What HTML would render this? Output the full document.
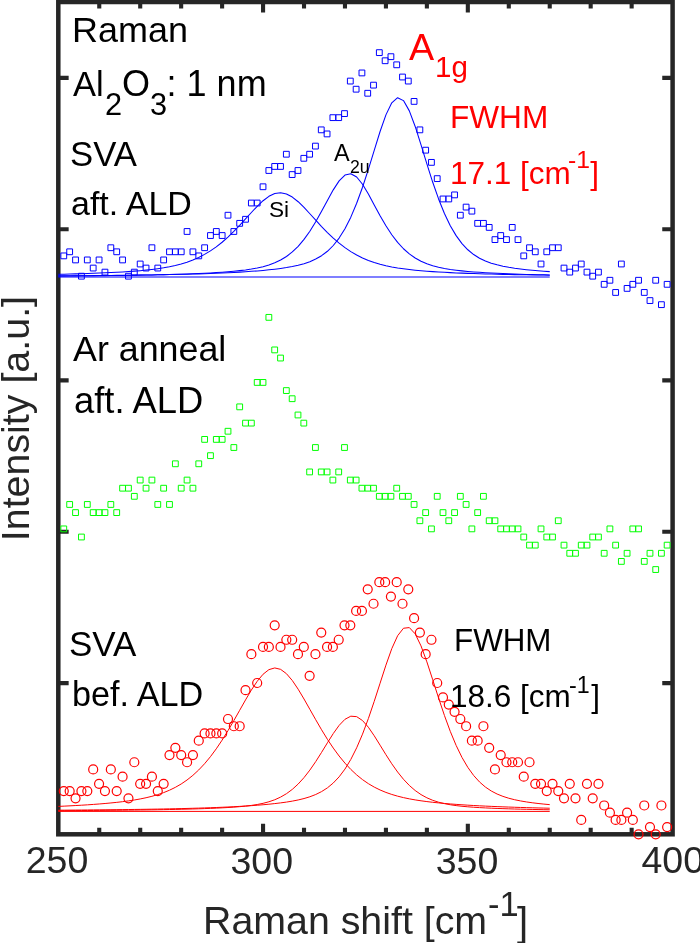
<!DOCTYPE html>
<html><head><meta charset="utf-8"><style>
html,body{margin:0;padding:0;background:#fff;width:700px;height:943px;overflow:hidden;position:relative}
svg text{font-family:"Liberation Sans",sans-serif}
</style></head><body>
<svg width="700" height="943" viewBox="0 0 700 943" style="position:absolute;left:0;top:0;will-change:transform"><rect x="58.3" y="2.0" width="614.3000000000001" height="832.3" fill="none" stroke="#262626" stroke-width="4.5"/><path d="M99.25 834.30V827.75M99.25 2.00V8.55M140.21 834.30V827.75M140.21 2.00V8.55M181.16 834.30V827.75M181.16 2.00V8.55M222.11 834.30V827.75M222.11 2.00V8.55M263.07 834.30V823.75M263.07 2.00V12.55M304.02 834.30V827.75M304.02 2.00V8.55M344.97 834.30V827.75M344.97 2.00V8.55M385.93 834.30V827.75M385.93 2.00V8.55M426.88 834.30V827.75M426.88 2.00V8.55M467.83 834.30V823.75M467.83 2.00V12.55M508.79 834.30V827.75M508.79 2.00V8.55M549.74 834.30V827.75M549.74 2.00V8.55M590.69 834.30V827.75M590.69 2.00V8.55M631.65 834.30V827.75M631.65 2.00V8.55M58.30 77.9H68.65M672.60 77.9H662.25M58.30 229.2H68.65M672.60 229.2H662.25M58.30 380.4H68.65M672.60 380.4H662.25M58.30 531.8H68.65M672.60 531.8H662.25M58.30 683.1H68.65M672.60 683.1H662.25" stroke="#262626" stroke-width="4.1" fill="none"/><g><path d="M58.30 277.0H549.74" stroke="#0000ff" stroke-width="1.05"/><path d="M58.30 274.34 L64.15 274.20 L70.00 274.05 L75.85 273.89 L81.70 273.72 L87.55 273.53 L93.40 273.32 L99.25 273.09 L105.10 272.85 L110.95 272.57 L116.80 272.27 L122.66 271.94 L128.51 271.56 L134.36 271.14 L140.21 270.65 L146.06 270.10 L151.91 269.45 L157.76 268.69 L163.61 267.80 L169.46 266.74 L175.31 265.47 L181.16 263.95 L187.01 262.14 L192.86 259.97 L198.71 257.41 L204.56 254.39 L210.41 250.88 L216.26 246.84 L222.11 242.24 L227.96 237.10 L233.81 231.44 L239.66 225.35 L245.52 218.96 L251.37 212.50 L257.22 206.29 L263.07 200.74 L268.92 196.33 L274.77 193.53 L280.62 192.70 L286.47 193.93 L292.32 197.07 L298.17 201.74 L304.02 207.45 L309.87 213.74 L315.72 220.21 L321.57 226.56 L327.42 232.57 L333.27 238.14 L339.12 243.18 L344.97 247.66 L350.82 251.60 L356.67 255.01 L362.52 257.94 L368.38 260.42 L374.23 262.51 L380.08 264.27 L385.93 265.73 L391.78 266.96 L397.63 267.99 L403.48 268.85 L409.33 269.58 L415.18 270.21 L421.03 270.75 L426.88 271.22 L432.73 271.64 L438.58 272.00 L444.43 272.33 L450.28 272.63 L456.13 272.90 L461.98 273.14 L467.83 273.36 L473.68 273.57 L479.53 273.75 L485.38 273.93 L491.24 274.08 L497.09 274.23 L502.94 274.37 L508.79 274.50 L514.64 274.61 L520.49 274.72 L526.34 274.83 L532.19 274.92 L538.04 275.01 L543.89 275.10 L549.74 275.18" fill="none" stroke="#0000ff" stroke-width="1.05" stroke-linejoin="round"/><path d="M58.30 276.02 L64.15 275.98 L70.00 275.94 L75.85 275.89 L81.70 275.84 L87.55 275.79 L93.40 275.74 L99.25 275.68 L105.10 275.62 L110.95 275.55 L116.80 275.48 L122.66 275.40 L128.51 275.31 L134.36 275.22 L140.21 275.13 L146.06 275.02 L151.91 274.91 L157.76 274.78 L163.61 274.64 L169.46 274.49 L175.31 274.33 L181.16 274.15 L187.01 273.95 L192.86 273.73 L198.71 273.49 L204.56 273.21 L210.41 272.91 L216.26 272.57 L222.11 272.18 L227.96 271.73 L233.81 271.22 L239.66 270.62 L245.52 269.92 L251.37 269.06 L257.22 268.01 L263.07 266.68 L268.92 265.00 L274.77 262.84 L280.62 260.05 L286.47 256.48 L292.32 251.95 L298.17 246.30 L304.02 239.41 L309.87 231.22 L315.72 221.79 L321.57 211.36 L327.42 200.42 L333.27 189.84 L339.12 180.89 L344.97 175.09 L350.82 173.67 L356.67 176.98 L362.52 184.24 L368.38 194.02 L374.23 204.88 L380.08 215.70 L385.93 225.76 L391.78 234.71 L397.63 242.37 L403.48 248.74 L409.33 253.92 L415.18 258.04 L421.03 261.27 L426.88 263.79 L432.73 265.74 L438.58 267.26 L444.43 268.46 L450.28 269.43 L456.13 270.22 L461.98 270.88 L467.83 271.44 L473.68 271.92 L479.53 272.34 L485.38 272.71 L491.24 273.04 L497.09 273.33 L502.94 273.59 L508.79 273.82 L514.64 274.03 L520.49 274.23 L526.34 274.40 L532.19 274.56 L538.04 274.70 L543.89 274.83 L549.74 274.95" fill="none" stroke="#0000ff" stroke-width="1.05" stroke-linejoin="round"/><path d="M58.30 275.89 L64.15 275.85 L70.00 275.81 L75.85 275.77 L81.70 275.73 L87.55 275.68 L93.40 275.63 L99.25 275.57 L105.10 275.52 L110.95 275.46 L116.80 275.39 L122.66 275.33 L128.51 275.25 L134.36 275.18 L140.21 275.10 L146.06 275.01 L151.91 274.91 L157.76 274.81 L163.61 274.71 L169.46 274.59 L175.31 274.47 L181.16 274.33 L187.01 274.19 L192.86 274.03 L198.71 273.86 L204.56 273.67 L210.41 273.47 L216.26 273.25 L222.11 273.00 L227.96 272.74 L233.81 272.44 L239.66 272.12 L245.52 271.75 L251.37 271.35 L257.22 270.90 L263.07 270.40 L268.92 269.83 L274.77 269.17 L280.62 268.42 L286.47 267.55 L292.32 266.50 L298.17 265.23 L304.02 263.65 L309.87 261.65 L315.72 259.07 L321.57 255.69 L327.42 251.27 L333.27 245.50 L339.12 238.08 L344.97 228.71 L350.82 217.15 L356.67 203.29 L362.52 187.22 L368.38 169.29 L374.23 150.28 L380.08 131.49 L385.93 114.86 L391.78 102.84 L397.63 97.71 L403.48 100.61 L409.33 110.87 L415.18 126.45 L421.03 144.85 L426.88 163.96 L432.73 182.29 L438.58 198.94 L444.43 213.45 L450.28 225.66 L456.13 235.64 L461.98 243.58 L467.83 249.78 L473.68 254.55 L479.53 258.20 L485.38 260.99 L491.24 263.14 L497.09 264.82 L502.94 266.17 L508.79 267.27 L514.64 268.19 L520.49 268.97 L526.34 269.65 L532.19 270.24 L538.04 270.77 L543.89 271.23 L549.74 271.64" fill="none" stroke="#0000ff" stroke-width="1.05" stroke-linejoin="round"/><path d="M60.87 252.97h5.8v5.8h-5.8zM66.76 248.90h5.8v5.8h-5.8zM72.64 257.03h5.8v5.8h-5.8zM78.53 273.29h5.8v5.8h-5.8zM84.41 257.03h5.8v5.8h-5.8zM90.29 265.16h5.8v5.8h-5.8zM96.17 257.03h5.8v5.8h-5.8zM102.05 269.23h5.8v5.8h-5.8zM107.93 244.84h5.8v5.8h-5.8zM113.80 248.90h5.8v5.8h-5.8zM119.68 257.03h5.8v5.8h-5.8zM125.55 273.29h5.8v5.8h-5.8zM131.42 269.23h5.8v5.8h-5.8zM137.28 261.10h5.8v5.8h-5.8zM143.15 265.16h5.8v5.8h-5.8zM149.02 244.84h5.8v5.8h-5.8zM154.88 265.16h5.8v5.8h-5.8zM160.74 257.03h5.8v5.8h-5.8zM166.60 248.90h5.8v5.8h-5.8zM172.46 248.90h5.8v5.8h-5.8zM178.31 248.90h5.8v5.8h-5.8zM184.17 228.58h5.8v5.8h-5.8zM190.02 248.90h5.8v5.8h-5.8zM195.87 252.97h5.8v5.8h-5.8zM201.72 244.84h5.8v5.8h-5.8zM207.57 232.64h5.8v5.8h-5.8zM213.42 228.58h5.8v5.8h-5.8zM219.26 232.64h5.8v5.8h-5.8zM225.10 212.32h5.8v5.8h-5.8zM230.94 228.58h5.8v5.8h-5.8zM236.78 220.45h5.8v5.8h-5.8zM242.62 216.38h5.8v5.8h-5.8zM248.46 200.12h5.8v5.8h-5.8zM254.29 200.12h5.8v5.8h-5.8zM260.12 183.86h5.8v5.8h-5.8zM265.95 167.60h5.8v5.8h-5.8zM271.78 163.54h5.8v5.8h-5.8zM277.61 163.54h5.8v5.8h-5.8zM283.44 151.34h5.8v5.8h-5.8zM289.26 171.67h5.8v5.8h-5.8zM295.08 167.60h5.8v5.8h-5.8zM300.91 155.41h5.8v5.8h-5.8zM306.72 151.34h5.8v5.8h-5.8zM312.54 143.21h5.8v5.8h-5.8zM318.36 126.95h5.8v5.8h-5.8zM324.17 131.02h5.8v5.8h-5.8zM329.98 114.76h5.8v5.8h-5.8zM335.80 114.76h5.8v5.8h-5.8zM341.60 110.69h5.8v5.8h-5.8zM347.41 78.17h5.8v5.8h-5.8zM353.22 86.30h5.8v5.8h-5.8zM359.02 70.04h5.8v5.8h-5.8zM364.82 90.37h5.8v5.8h-5.8zM370.62 82.24h5.8v5.8h-5.8zM376.42 49.72h5.8v5.8h-5.8zM382.22 57.85h5.8v5.8h-5.8zM388.02 53.78h5.8v5.8h-5.8zM393.81 61.91h5.8v5.8h-5.8zM399.60 74.11h5.8v5.8h-5.8zM405.39 78.17h5.8v5.8h-5.8zM411.18 98.50h5.8v5.8h-5.8zM416.97 126.95h5.8v5.8h-5.8zM422.76 147.28h5.8v5.8h-5.8zM428.54 159.47h5.8v5.8h-5.8zM434.32 175.73h5.8v5.8h-5.8zM440.10 196.06h5.8v5.8h-5.8zM445.88 196.06h5.8v5.8h-5.8zM451.66 191.99h5.8v5.8h-5.8zM457.43 212.32h5.8v5.8h-5.8zM463.21 204.19h5.8v5.8h-5.8zM468.98 208.25h5.8v5.8h-5.8zM474.75 220.45h5.8v5.8h-5.8zM480.52 220.45h5.8v5.8h-5.8zM486.29 224.51h5.8v5.8h-5.8zM492.05 236.71h5.8v5.8h-5.8zM497.81 232.64h5.8v5.8h-5.8zM503.58 236.71h5.8v5.8h-5.8zM509.34 224.51h5.8v5.8h-5.8zM515.10 236.71h5.8v5.8h-5.8zM520.85 252.97h5.8v5.8h-5.8zM526.61 244.84h5.8v5.8h-5.8zM532.36 248.90h5.8v5.8h-5.8zM538.11 261.10h5.8v5.8h-5.8zM543.86 248.90h5.8v5.8h-5.8zM549.61 244.84h5.8v5.8h-5.8zM555.36 244.84h5.8v5.8h-5.8zM561.10 265.16h5.8v5.8h-5.8zM566.85 269.23h5.8v5.8h-5.8zM572.59 265.16h5.8v5.8h-5.8zM578.33 261.10h5.8v5.8h-5.8zM584.07 269.23h5.8v5.8h-5.8zM589.80 273.29h5.8v5.8h-5.8zM595.54 269.23h5.8v5.8h-5.8zM601.27 281.42h5.8v5.8h-5.8zM607.00 277.36h5.8v5.8h-5.8zM612.73 289.55h5.8v5.8h-5.8zM618.46 261.10h5.8v5.8h-5.8zM624.19 285.49h5.8v5.8h-5.8zM629.92 281.42h5.8v5.8h-5.8zM635.64 277.36h5.8v5.8h-5.8zM641.36 289.55h5.8v5.8h-5.8zM647.08 297.68h5.8v5.8h-5.8zM652.80 277.36h5.8v5.8h-5.8zM658.51 301.75h5.8v5.8h-5.8zM664.23 281.42h5.8v5.8h-5.8z" fill="none" stroke="#0000ff" stroke-width="1.0"/><path d="M60.87 525.97h5.8v5.8h-5.8zM66.76 501.57h5.8v5.8h-5.8zM72.64 509.70h5.8v5.8h-5.8zM78.53 534.11h5.8v5.8h-5.8zM84.41 501.57h5.8v5.8h-5.8zM90.29 509.70h5.8v5.8h-5.8zM96.17 509.70h5.8v5.8h-5.8zM102.05 509.70h5.8v5.8h-5.8zM107.93 501.57h5.8v5.8h-5.8zM113.80 509.70h5.8v5.8h-5.8zM119.68 485.30h5.8v5.8h-5.8zM125.55 485.30h5.8v5.8h-5.8zM131.42 493.43h5.8v5.8h-5.8zM137.28 477.16h5.8v5.8h-5.8zM143.15 485.30h5.8v5.8h-5.8zM149.02 477.16h5.8v5.8h-5.8zM154.88 501.57h5.8v5.8h-5.8zM160.74 485.30h5.8v5.8h-5.8zM166.60 501.57h5.8v5.8h-5.8zM172.46 460.89h5.8v5.8h-5.8zM178.31 485.30h5.8v5.8h-5.8zM184.17 477.16h5.8v5.8h-5.8zM190.02 485.30h5.8v5.8h-5.8zM195.87 460.89h5.8v5.8h-5.8zM201.72 436.49h5.8v5.8h-5.8zM207.57 452.76h5.8v5.8h-5.8zM213.42 436.49h5.8v5.8h-5.8zM219.26 436.49h5.8v5.8h-5.8zM225.10 428.35h5.8v5.8h-5.8zM230.94 444.62h5.8v5.8h-5.8zM236.78 403.95h5.8v5.8h-5.8zM242.62 420.22h5.8v5.8h-5.8zM248.46 420.22h5.8v5.8h-5.8zM254.29 379.54h5.8v5.8h-5.8zM260.12 379.54h5.8v5.8h-5.8zM265.95 314.46h5.8v5.8h-5.8zM271.78 347.00h5.8v5.8h-5.8zM277.61 355.14h5.8v5.8h-5.8zM283.44 387.68h5.8v5.8h-5.8zM289.26 395.81h5.8v5.8h-5.8zM295.08 412.08h5.8v5.8h-5.8zM300.91 420.22h5.8v5.8h-5.8zM306.72 469.03h5.8v5.8h-5.8zM312.54 444.62h5.8v5.8h-5.8zM318.36 469.03h5.8v5.8h-5.8zM324.17 469.03h5.8v5.8h-5.8zM329.98 477.16h5.8v5.8h-5.8zM335.80 469.03h5.8v5.8h-5.8zM341.60 444.62h5.8v5.8h-5.8zM347.41 477.16h5.8v5.8h-5.8zM353.22 477.16h5.8v5.8h-5.8zM359.02 485.30h5.8v5.8h-5.8zM364.82 485.30h5.8v5.8h-5.8zM370.62 485.30h5.8v5.8h-5.8zM376.42 493.43h5.8v5.8h-5.8zM382.22 493.43h5.8v5.8h-5.8zM388.02 493.43h5.8v5.8h-5.8zM393.81 485.30h5.8v5.8h-5.8zM399.60 493.43h5.8v5.8h-5.8zM405.39 493.43h5.8v5.8h-5.8zM411.18 501.57h5.8v5.8h-5.8zM416.97 517.84h5.8v5.8h-5.8zM422.76 509.70h5.8v5.8h-5.8zM428.54 525.97h5.8v5.8h-5.8zM434.32 493.43h5.8v5.8h-5.8zM440.10 509.70h5.8v5.8h-5.8zM445.88 517.84h5.8v5.8h-5.8zM451.66 509.70h5.8v5.8h-5.8zM457.43 493.43h5.8v5.8h-5.8zM463.21 501.57h5.8v5.8h-5.8zM468.98 525.97h5.8v5.8h-5.8zM474.75 509.70h5.8v5.8h-5.8zM480.52 493.43h5.8v5.8h-5.8zM486.29 517.84h5.8v5.8h-5.8zM492.05 517.84h5.8v5.8h-5.8zM497.81 525.97h5.8v5.8h-5.8zM503.58 525.97h5.8v5.8h-5.8zM509.34 525.97h5.8v5.8h-5.8zM515.10 525.97h5.8v5.8h-5.8zM520.85 534.11h5.8v5.8h-5.8zM526.61 542.24h5.8v5.8h-5.8zM532.36 542.24h5.8v5.8h-5.8zM538.11 525.97h5.8v5.8h-5.8zM543.86 534.11h5.8v5.8h-5.8zM549.61 534.11h5.8v5.8h-5.8zM555.36 517.84h5.8v5.8h-5.8zM561.10 542.24h5.8v5.8h-5.8zM566.85 550.38h5.8v5.8h-5.8zM572.59 550.38h5.8v5.8h-5.8zM578.33 542.24h5.8v5.8h-5.8zM584.07 542.24h5.8v5.8h-5.8zM589.80 534.11h5.8v5.8h-5.8zM595.54 534.11h5.8v5.8h-5.8zM601.27 550.38h5.8v5.8h-5.8zM607.00 525.97h5.8v5.8h-5.8zM612.73 542.24h5.8v5.8h-5.8zM618.46 558.51h5.8v5.8h-5.8zM624.19 550.38h5.8v5.8h-5.8zM629.92 525.97h5.8v5.8h-5.8zM635.64 525.97h5.8v5.8h-5.8zM641.36 558.51h5.8v5.8h-5.8zM647.08 550.38h5.8v5.8h-5.8zM652.80 566.65h5.8v5.8h-5.8zM658.51 550.38h5.8v5.8h-5.8zM664.23 542.24h5.8v5.8h-5.8z" fill="none" stroke="#00ff00" stroke-width="1.0"/><path d="M58.30 811.4H549.74" stroke="#ff0000" stroke-width="1.0"/><path d="M58.30 806.40 L64.15 806.13 L70.00 805.84 L75.85 805.53 L81.70 805.19 L87.55 804.83 L93.40 804.42 L99.25 803.98 L105.10 803.49 L110.95 802.95 L116.80 802.35 L122.66 801.66 L128.51 800.88 L134.36 799.99 L140.21 798.95 L146.06 797.74 L151.91 796.31 L157.76 794.62 L163.61 792.61 L169.46 790.22 L175.31 787.37 L181.16 784.00 L187.01 780.02 L192.86 775.37 L198.71 769.96 L204.56 763.75 L210.41 756.71 L216.26 748.82 L222.11 740.12 L227.96 730.68 L233.81 720.66 L239.66 710.30 L245.52 699.94 L251.37 690.06 L257.22 681.27 L263.07 674.24 L268.92 669.63 L274.77 667.94 L280.62 669.35 L286.47 673.71 L292.32 680.54 L298.17 689.21 L304.02 699.01 L309.87 709.35 L315.72 719.73 L321.57 729.79 L327.42 739.29 L333.27 748.06 L339.12 756.03 L344.97 763.15 L350.82 769.43 L356.67 774.90 L362.52 779.63 L368.38 783.66 L374.23 787.09 L380.08 789.98 L385.93 792.41 L391.78 794.45 L397.63 796.17 L403.48 797.62 L409.33 798.85 L415.18 799.90 L421.03 800.81 L426.88 801.59 L432.73 802.29 L438.58 802.90 L444.43 803.45 L450.28 803.94 L456.13 804.39 L461.98 804.79 L467.83 805.16 L473.68 805.50 L479.53 805.82 L485.38 806.10 L491.24 806.37 L497.09 806.62 L502.94 806.85 L508.79 807.06 L514.64 807.26 L520.49 807.45 L526.34 807.62 L532.19 807.79 L538.04 807.94 L543.89 808.08 L549.74 808.22" fill="none" stroke="#ff0000" stroke-width="1.0" stroke-linejoin="round"/><path d="M58.30 810.66 L64.15 810.63 L70.00 810.59 L75.85 810.56 L81.70 810.52 L87.55 810.49 L93.40 810.44 L99.25 810.40 L105.10 810.35 L110.95 810.30 L116.80 810.25 L122.66 810.19 L128.51 810.13 L134.36 810.07 L140.21 809.99 L146.06 809.92 L151.91 809.83 L157.76 809.74 L163.61 809.64 L169.46 809.53 L175.31 809.41 L181.16 809.28 L187.01 809.13 L192.86 808.98 L198.71 808.80 L204.56 808.60 L210.41 808.38 L216.26 808.13 L222.11 807.85 L227.96 807.52 L233.81 807.14 L239.66 806.68 L245.52 806.12 L251.37 805.41 L257.22 804.50 L263.07 803.32 L268.92 801.78 L274.77 799.75 L280.62 797.09 L286.47 793.68 L292.32 789.36 L298.17 784.02 L304.02 777.59 L309.87 770.08 L315.72 761.59 L321.57 752.37 L327.42 742.82 L333.27 733.55 L339.12 725.38 L344.97 719.29 L350.82 716.20 L356.67 716.65 L362.52 720.55 L368.38 727.24 L374.23 735.77 L380.08 745.18 L385.93 754.70 L391.78 763.77 L397.63 772.03 L403.48 779.28 L409.33 785.44 L415.18 790.52 L421.03 794.60 L426.88 797.81 L432.73 800.30 L438.58 802.20 L444.43 803.64 L450.28 804.75 L456.13 805.60 L461.98 806.27 L467.83 806.80 L473.68 807.24 L479.53 807.61 L485.38 807.92 L491.24 808.20 L497.09 808.44 L502.94 808.65 L508.79 808.84 L514.64 809.02 L520.49 809.17 L526.34 809.31 L532.19 809.44 L538.04 809.56 L543.89 809.66 L549.74 809.76" fill="none" stroke="#ff0000" stroke-width="1.0" stroke-linejoin="round"/><path d="M58.30 810.20 L64.15 810.16 L70.00 810.12 L75.85 810.07 L81.70 810.02 L87.55 809.97 L93.40 809.92 L99.25 809.87 L105.10 809.81 L110.95 809.74 L116.80 809.68 L122.66 809.61 L128.51 809.53 L134.36 809.45 L140.21 809.37 L146.06 809.28 L151.91 809.18 L157.76 809.08 L163.61 808.97 L169.46 808.85 L175.31 808.72 L181.16 808.59 L187.01 808.44 L192.86 808.28 L198.71 808.11 L204.56 807.92 L210.41 807.72 L216.26 807.50 L222.11 807.26 L227.96 807.00 L233.81 806.71 L239.66 806.39 L245.52 806.04 L251.37 805.66 L257.22 805.23 L263.07 804.75 L268.92 804.21 L274.77 803.59 L280.62 802.89 L286.47 802.08 L292.32 801.12 L298.17 799.96 L304.02 798.54 L309.87 796.77 L315.72 794.51 L321.57 791.60 L327.42 787.85 L333.27 783.01 L339.12 776.83 L344.97 769.05 L350.82 759.43 L356.67 747.81 L362.52 734.14 L368.38 718.54 L374.23 701.34 L380.08 683.19 L385.93 665.13 L391.78 648.67 L397.63 635.72 L403.48 628.24 L409.33 627.58 L415.18 633.86 L421.03 645.92 L426.88 661.88 L432.73 679.77 L438.58 698.00 L444.43 715.44 L450.28 731.37 L456.13 745.42 L461.98 757.42 L467.83 767.40 L473.68 775.51 L479.53 781.97 L485.38 787.04 L491.24 790.97 L497.09 794.02 L502.94 796.39 L508.79 798.24 L514.64 799.72 L520.49 800.92 L526.34 801.91 L532.19 802.75 L538.04 803.47 L543.89 804.10 L549.74 804.65" fill="none" stroke="#ff0000" stroke-width="1.0" stroke-linejoin="round"/><circle cx="63.77" cy="791.07" r="4.5" fill="none" stroke="#ff0000" stroke-width="1.2"/><circle cx="69.66" cy="791.07" r="4.5" fill="none" stroke="#ff0000" stroke-width="1.2"/><circle cx="75.54" cy="798.28" r="4.5" fill="none" stroke="#ff0000" stroke-width="1.2"/><circle cx="81.43" cy="791.07" r="4.5" fill="none" stroke="#ff0000" stroke-width="1.2"/><circle cx="87.31" cy="791.07" r="4.5" fill="none" stroke="#ff0000" stroke-width="1.2"/><circle cx="93.19" cy="769.46" r="4.5" fill="none" stroke="#ff0000" stroke-width="1.2"/><circle cx="99.07" cy="783.87" r="4.5" fill="none" stroke="#ff0000" stroke-width="1.2"/><circle cx="104.95" cy="791.07" r="4.5" fill="none" stroke="#ff0000" stroke-width="1.2"/><circle cx="110.83" cy="769.46" r="4.5" fill="none" stroke="#ff0000" stroke-width="1.2"/><circle cx="116.70" cy="791.07" r="4.5" fill="none" stroke="#ff0000" stroke-width="1.2"/><circle cx="122.58" cy="776.66" r="4.5" fill="none" stroke="#ff0000" stroke-width="1.2"/><circle cx="128.45" cy="798.28" r="4.5" fill="none" stroke="#ff0000" stroke-width="1.2"/><circle cx="134.32" cy="762.25" r="4.5" fill="none" stroke="#ff0000" stroke-width="1.2"/><circle cx="140.18" cy="783.87" r="4.5" fill="none" stroke="#ff0000" stroke-width="1.2"/><circle cx="146.05" cy="783.87" r="4.5" fill="none" stroke="#ff0000" stroke-width="1.2"/><circle cx="151.92" cy="776.66" r="4.5" fill="none" stroke="#ff0000" stroke-width="1.2"/><circle cx="157.78" cy="791.07" r="4.5" fill="none" stroke="#ff0000" stroke-width="1.2"/><circle cx="163.64" cy="783.87" r="4.5" fill="none" stroke="#ff0000" stroke-width="1.2"/><circle cx="169.50" cy="755.05" r="4.5" fill="none" stroke="#ff0000" stroke-width="1.2"/><circle cx="175.36" cy="747.84" r="4.5" fill="none" stroke="#ff0000" stroke-width="1.2"/><circle cx="181.21" cy="755.05" r="4.5" fill="none" stroke="#ff0000" stroke-width="1.2"/><circle cx="187.07" cy="762.25" r="4.5" fill="none" stroke="#ff0000" stroke-width="1.2"/><circle cx="192.92" cy="755.05" r="4.5" fill="none" stroke="#ff0000" stroke-width="1.2"/><circle cx="198.77" cy="740.64" r="4.5" fill="none" stroke="#ff0000" stroke-width="1.2"/><circle cx="204.62" cy="733.43" r="4.5" fill="none" stroke="#ff0000" stroke-width="1.2"/><circle cx="210.47" cy="733.43" r="4.5" fill="none" stroke="#ff0000" stroke-width="1.2"/><circle cx="216.32" cy="733.43" r="4.5" fill="none" stroke="#ff0000" stroke-width="1.2"/><circle cx="222.16" cy="733.43" r="4.5" fill="none" stroke="#ff0000" stroke-width="1.2"/><circle cx="228.00" cy="719.02" r="4.5" fill="none" stroke="#ff0000" stroke-width="1.2"/><circle cx="233.84" cy="726.23" r="4.5" fill="none" stroke="#ff0000" stroke-width="1.2"/><circle cx="239.68" cy="726.23" r="4.5" fill="none" stroke="#ff0000" stroke-width="1.2"/><circle cx="245.52" cy="690.20" r="4.5" fill="none" stroke="#ff0000" stroke-width="1.2"/><circle cx="251.36" cy="654.18" r="4.5" fill="none" stroke="#ff0000" stroke-width="1.2"/><circle cx="257.19" cy="683.00" r="4.5" fill="none" stroke="#ff0000" stroke-width="1.2"/><circle cx="263.02" cy="646.97" r="4.5" fill="none" stroke="#ff0000" stroke-width="1.2"/><circle cx="268.85" cy="646.97" r="4.5" fill="none" stroke="#ff0000" stroke-width="1.2"/><circle cx="274.68" cy="625.36" r="4.5" fill="none" stroke="#ff0000" stroke-width="1.2"/><circle cx="280.51" cy="646.97" r="4.5" fill="none" stroke="#ff0000" stroke-width="1.2"/><circle cx="286.34" cy="639.77" r="4.5" fill="none" stroke="#ff0000" stroke-width="1.2"/><circle cx="292.16" cy="639.77" r="4.5" fill="none" stroke="#ff0000" stroke-width="1.2"/><circle cx="297.98" cy="654.18" r="4.5" fill="none" stroke="#ff0000" stroke-width="1.2"/><circle cx="303.81" cy="646.97" r="4.5" fill="none" stroke="#ff0000" stroke-width="1.2"/><circle cx="309.62" cy="675.79" r="4.5" fill="none" stroke="#ff0000" stroke-width="1.2"/><circle cx="315.44" cy="654.18" r="4.5" fill="none" stroke="#ff0000" stroke-width="1.2"/><circle cx="321.26" cy="632.56" r="4.5" fill="none" stroke="#ff0000" stroke-width="1.2"/><circle cx="327.07" cy="646.97" r="4.5" fill="none" stroke="#ff0000" stroke-width="1.2"/><circle cx="332.88" cy="646.97" r="4.5" fill="none" stroke="#ff0000" stroke-width="1.2"/><circle cx="338.70" cy="639.77" r="4.5" fill="none" stroke="#ff0000" stroke-width="1.2"/><circle cx="344.50" cy="625.36" r="4.5" fill="none" stroke="#ff0000" stroke-width="1.2"/><circle cx="350.31" cy="625.36" r="4.5" fill="none" stroke="#ff0000" stroke-width="1.2"/><circle cx="356.12" cy="610.95" r="4.5" fill="none" stroke="#ff0000" stroke-width="1.2"/><circle cx="361.92" cy="610.95" r="4.5" fill="none" stroke="#ff0000" stroke-width="1.2"/><circle cx="367.72" cy="589.33" r="4.5" fill="none" stroke="#ff0000" stroke-width="1.2"/><circle cx="373.52" cy="603.74" r="4.5" fill="none" stroke="#ff0000" stroke-width="1.2"/><circle cx="379.32" cy="582.13" r="4.5" fill="none" stroke="#ff0000" stroke-width="1.2"/><circle cx="385.12" cy="582.13" r="4.5" fill="none" stroke="#ff0000" stroke-width="1.2"/><circle cx="390.92" cy="596.54" r="4.5" fill="none" stroke="#ff0000" stroke-width="1.2"/><circle cx="396.71" cy="582.13" r="4.5" fill="none" stroke="#ff0000" stroke-width="1.2"/><circle cx="402.50" cy="603.74" r="4.5" fill="none" stroke="#ff0000" stroke-width="1.2"/><circle cx="408.29" cy="589.33" r="4.5" fill="none" stroke="#ff0000" stroke-width="1.2"/><circle cx="414.08" cy="618.15" r="4.5" fill="none" stroke="#ff0000" stroke-width="1.2"/><circle cx="419.87" cy="632.56" r="4.5" fill="none" stroke="#ff0000" stroke-width="1.2"/><circle cx="425.66" cy="654.18" r="4.5" fill="none" stroke="#ff0000" stroke-width="1.2"/><circle cx="431.44" cy="639.77" r="4.5" fill="none" stroke="#ff0000" stroke-width="1.2"/><circle cx="437.22" cy="683.00" r="4.5" fill="none" stroke="#ff0000" stroke-width="1.2"/><circle cx="443.00" cy="697.41" r="4.5" fill="none" stroke="#ff0000" stroke-width="1.2"/><circle cx="448.78" cy="704.61" r="4.5" fill="none" stroke="#ff0000" stroke-width="1.2"/><circle cx="454.56" cy="711.82" r="4.5" fill="none" stroke="#ff0000" stroke-width="1.2"/><circle cx="460.33" cy="719.02" r="4.5" fill="none" stroke="#ff0000" stroke-width="1.2"/><circle cx="466.11" cy="726.23" r="4.5" fill="none" stroke="#ff0000" stroke-width="1.2"/><circle cx="471.88" cy="740.64" r="4.5" fill="none" stroke="#ff0000" stroke-width="1.2"/><circle cx="477.65" cy="740.64" r="4.5" fill="none" stroke="#ff0000" stroke-width="1.2"/><circle cx="483.42" cy="726.23" r="4.5" fill="none" stroke="#ff0000" stroke-width="1.2"/><circle cx="489.19" cy="747.84" r="4.5" fill="none" stroke="#ff0000" stroke-width="1.2"/><circle cx="494.95" cy="769.46" r="4.5" fill="none" stroke="#ff0000" stroke-width="1.2"/><circle cx="500.71" cy="755.05" r="4.5" fill="none" stroke="#ff0000" stroke-width="1.2"/><circle cx="506.48" cy="762.25" r="4.5" fill="none" stroke="#ff0000" stroke-width="1.2"/><circle cx="512.24" cy="762.25" r="4.5" fill="none" stroke="#ff0000" stroke-width="1.2"/><circle cx="518.00" cy="762.25" r="4.5" fill="none" stroke="#ff0000" stroke-width="1.2"/><circle cx="523.75" cy="776.66" r="4.5" fill="none" stroke="#ff0000" stroke-width="1.2"/><circle cx="529.51" cy="762.25" r="4.5" fill="none" stroke="#ff0000" stroke-width="1.2"/><circle cx="535.26" cy="783.87" r="4.5" fill="none" stroke="#ff0000" stroke-width="1.2"/><circle cx="541.01" cy="783.87" r="4.5" fill="none" stroke="#ff0000" stroke-width="1.2"/><circle cx="546.76" cy="791.07" r="4.5" fill="none" stroke="#ff0000" stroke-width="1.2"/><circle cx="552.51" cy="783.87" r="4.5" fill="none" stroke="#ff0000" stroke-width="1.2"/><circle cx="558.26" cy="791.07" r="4.5" fill="none" stroke="#ff0000" stroke-width="1.2"/><circle cx="564.00" cy="798.28" r="4.5" fill="none" stroke="#ff0000" stroke-width="1.2"/><circle cx="569.75" cy="783.87" r="4.5" fill="none" stroke="#ff0000" stroke-width="1.2"/><circle cx="575.49" cy="798.28" r="4.5" fill="none" stroke="#ff0000" stroke-width="1.2"/><circle cx="581.23" cy="819.89" r="4.5" fill="none" stroke="#ff0000" stroke-width="1.2"/><circle cx="586.97" cy="783.87" r="4.5" fill="none" stroke="#ff0000" stroke-width="1.2"/><circle cx="592.70" cy="798.28" r="4.5" fill="none" stroke="#ff0000" stroke-width="1.2"/><circle cx="598.44" cy="783.87" r="4.5" fill="none" stroke="#ff0000" stroke-width="1.2"/><circle cx="604.17" cy="805.48" r="4.5" fill="none" stroke="#ff0000" stroke-width="1.2"/><circle cx="609.90" cy="812.69" r="4.5" fill="none" stroke="#ff0000" stroke-width="1.2"/><circle cx="615.63" cy="819.89" r="4.5" fill="none" stroke="#ff0000" stroke-width="1.2"/><circle cx="621.36" cy="819.89" r="4.5" fill="none" stroke="#ff0000" stroke-width="1.2"/><circle cx="627.09" cy="812.69" r="4.5" fill="none" stroke="#ff0000" stroke-width="1.2"/><circle cx="632.82" cy="819.89" r="4.5" fill="none" stroke="#ff0000" stroke-width="1.2"/><circle cx="638.54" cy="834.30" r="4.5" fill="none" stroke="#ff0000" stroke-width="1.2"/><circle cx="644.26" cy="805.48" r="4.5" fill="none" stroke="#ff0000" stroke-width="1.2"/><circle cx="649.98" cy="827.10" r="4.5" fill="none" stroke="#ff0000" stroke-width="1.2"/><circle cx="655.70" cy="834.30" r="4.5" fill="none" stroke="#ff0000" stroke-width="1.2"/><circle cx="661.41" cy="805.48" r="4.5" fill="none" stroke="#ff0000" stroke-width="1.2"/><circle cx="667.13" cy="827.10" r="4.5" fill="none" stroke="#ff0000" stroke-width="1.2"/></g><text id="ylab" x="0" y="0" font-size="39.4" fill="#262626" font-family="Liberation Sans, sans-serif" text-anchor="middle" transform="translate(29 418.6) rotate(-90)">Intensity [a.u.]</text><text id="t250" x="25.75" y="873.00" font-size="37.50" fill="#262626" font-family="Liberation Sans, sans-serif">250</text><text id="t300" x="230.50" y="874.00" font-size="37.50" fill="#262626" font-family="Liberation Sans, sans-serif">300</text><text id="t350" x="435.75" y="874.00" font-size="37.50" fill="#262626" font-family="Liberation Sans, sans-serif">350</text><text id="t400" x="641.50" y="873.00" font-size="37.50" fill="#262626" font-family="Liberation Sans, sans-serif">400</text><text id="xl1" x="203.00" y="933.80" font-size="39.33" fill="#262626" font-family="Liberation Sans, sans-serif">Raman shift [cm</text><text id="xl2" x="488.00" y="916.00" font-size="34.45" fill="#262626" font-family="Liberation Sans, sans-serif">-1</text><text id="xl3" x="517.00" y="935.80" font-size="40.00" fill="#262626" font-family="Liberation Sans, sans-serif">]</text><text id="raman" x="72.00" y="42.00" font-size="35.98" fill="#000000" font-family="Liberation Sans, sans-serif">Raman</text><text id="al" x="73.00" y="96.00" font-size="34.47" fill="#000000" font-family="Liberation Sans, sans-serif">Al</text><text id="al2" x="105.00" y="115.00" font-size="30.73" fill="#000000" font-family="Liberation Sans, sans-serif">2</text><text id="alO" x="122.00" y="96.40" font-size="36.00" fill="#000000" font-family="Liberation Sans, sans-serif">O</text><text id="al3" x="150.00" y="114.70" font-size="30.73" fill="#000000" font-family="Liberation Sans, sans-serif">3</text><text id="alnm" x="166.60" y="96.00" font-size="36.00" fill="#000000" font-family="Liberation Sans, sans-serif">: 1 nm</text><text id="sva1" x="70.00" y="166.00" font-size="34.71" fill="#000000" font-family="Liberation Sans, sans-serif">SVA</text><text id="aft1" x="71.00" y="215.00" font-size="33.96" fill="#000000" font-family="Liberation Sans, sans-serif">aft. ALD</text><text id="ar" x="73.00" y="361.00" font-size="35.82" fill="#000000" font-family="Liberation Sans, sans-serif">Ar anneal</text><text id="aft2" x="74.00" y="413.00" font-size="36.36" fill="#000000" font-family="Liberation Sans, sans-serif">aft. ALD</text><text id="sva2" x="69.00" y="656.00" font-size="34.97" fill="#000000" font-family="Liberation Sans, sans-serif">SVA</text><text id="bef" x="72.00" y="706.00" font-size="34.21" fill="#000000" font-family="Liberation Sans, sans-serif">bef. ALD</text><text id="si" x="269.00" y="217.00" font-size="22.65" fill="#000000" font-family="Liberation Sans, sans-serif">Si</text><text id="a2uA" x="334.00" y="161.00" font-size="23.47" fill="#000000" font-family="Liberation Sans, sans-serif">A</text><text id="a2u2" x="350.00" y="173.00" font-size="17.67" fill="#000000" font-family="Liberation Sans, sans-serif">2u</text><text id="fwb" x="454.00" y="651.00" font-size="31.34" fill="#000000" font-family="Liberation Sans, sans-serif">FWHM</text><text id="n186" x="450.00" y="707.10" font-size="31.50" fill="#000000" font-family="Liberation Sans, sans-serif">18.6 [cm</text><text id="n186s" x="569.00" y="693.00" font-size="23.26" fill="#000000" font-family="Liberation Sans, sans-serif">-1</text><text id="n186b" x="591.25" y="707.10" font-size="31.50" fill="#000000" font-family="Liberation Sans, sans-serif">]</text><text id="a1gA" x="409.00" y="60.00" font-size="37.69" fill="#ff0000" font-family="Liberation Sans, sans-serif">A</text><text id="a1g1" x="435.00" y="77.16" font-size="29.50" fill="#ff0000" font-family="Liberation Sans, sans-serif">1g</text><text id="fwr" x="450.00" y="128.00" font-size="31.58" fill="#ff0000" font-family="Liberation Sans, sans-serif">FWHM</text><text id="n171" x="450.00" y="183.90" font-size="31.50" fill="#ff0000" font-family="Liberation Sans, sans-serif">17.1 [cm</text><text id="n171s" x="568.00" y="168.00" font-size="24.74" fill="#ff0000" font-family="Liberation Sans, sans-serif">-1</text><text id="n171b" x="590.25" y="183.90" font-size="31.50" fill="#ff0000" font-family="Liberation Sans, sans-serif">]</text></svg>
</body></html>
